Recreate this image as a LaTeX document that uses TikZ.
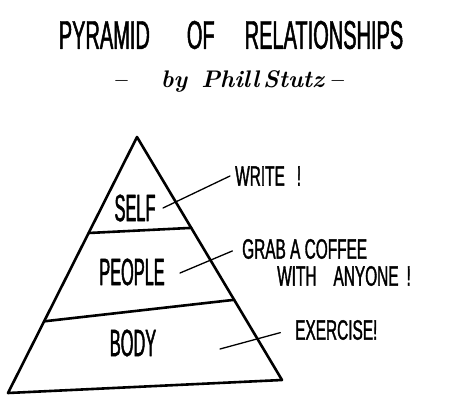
\documentclass[tikz,border=0pt]{standalone}
\usepackage{fontspec}
\usetikzlibrary{calc}
\newfontfamily\titlefont[FakeStretch=0.5, FakeBold=1.2]{Liberation Sans}
\newfontfamily\tierfont[FakeStretch=0.43, FakeBold=1.2]{Liberation Sans}
\newfontfamily\notefont[FakeStretch=0.55, FakeBold=1.2]{Liberation Sans}

\begin{document}
\begin{tikzpicture}[x=1pt, y=-1pt, line cap=round, line join=round,
  edge/.style={line width=2.6pt},
  pointer/.style={line width=1.3pt},
  tier/.style={inner sep=0pt, font=\tierfont\fontsize{38}{38}\selectfont},
  note/.style={inner sep=5pt, anchor=west, font=\notefont\fontsize{28}{28}\selectfont}]
\useasboundingbox (0,0) rectangle (474,418);

\node [inner sep=0pt, font=\titlefont\fontsize{40}{40}\selectfont] (title) at (231,35) {PYRAMID\hspace{37pt}OF\hspace{30pt}RELATIONSHIPS};
\node [inner sep=0pt, anchor=base, font=\bfseries\itshape\fontsize{24}{24}\selectfont] (author) at (228,87) {--\hspace{34pt}by\hspace{14pt}Phill\hspace{4pt}Stutz\hspace{5pt}--};

% pyramid
\coordinate (apex) at (137,137);
\coordinate (baseL) at (8,393);
\coordinate (baseR) at (282,380);
\draw [edge] (apex) -- (baseL) -- (baseR) -- cycle;
\draw [edge] ($(apex)!0.375!(baseL)$) -- ($(apex)!0.374!(baseR)$);
\draw [edge] ($(apex)!0.72!(baseL)$) -- ($(apex)!0.67!(baseR)$);

\node [tier] (self) at (135,208) {SELF};
\node [tier] (people) at (132,272) {PEOPLE};
\node [tier] (body) at (133,343) {BODY};

% notes
\coordinate (selftip) at (163,208);
\coordinate (peopletip) at (180,273);
\coordinate (bodytip) at (220,349);
\node [note] (write) at (230,176) {WRITE\hspace{12pt}!};
\node [note] (coffee) at (237,249) {GRAB A COFFEE};
\node [note] (anyone) at (272,276) {WITH\hspace{17pt}ANYONE\hspace{8pt}!};
\node [note] (exercise) at (290,330) {EXERCISE!};
\draw [pointer] (selftip) -- (write.west);
\draw [pointer, shorten >=5pt] (peopletip) -- (coffee.west);
\draw [pointer, shorten >=10pt] (bodytip) -- (exercise.west);

\end{tikzpicture}
\end{document}
